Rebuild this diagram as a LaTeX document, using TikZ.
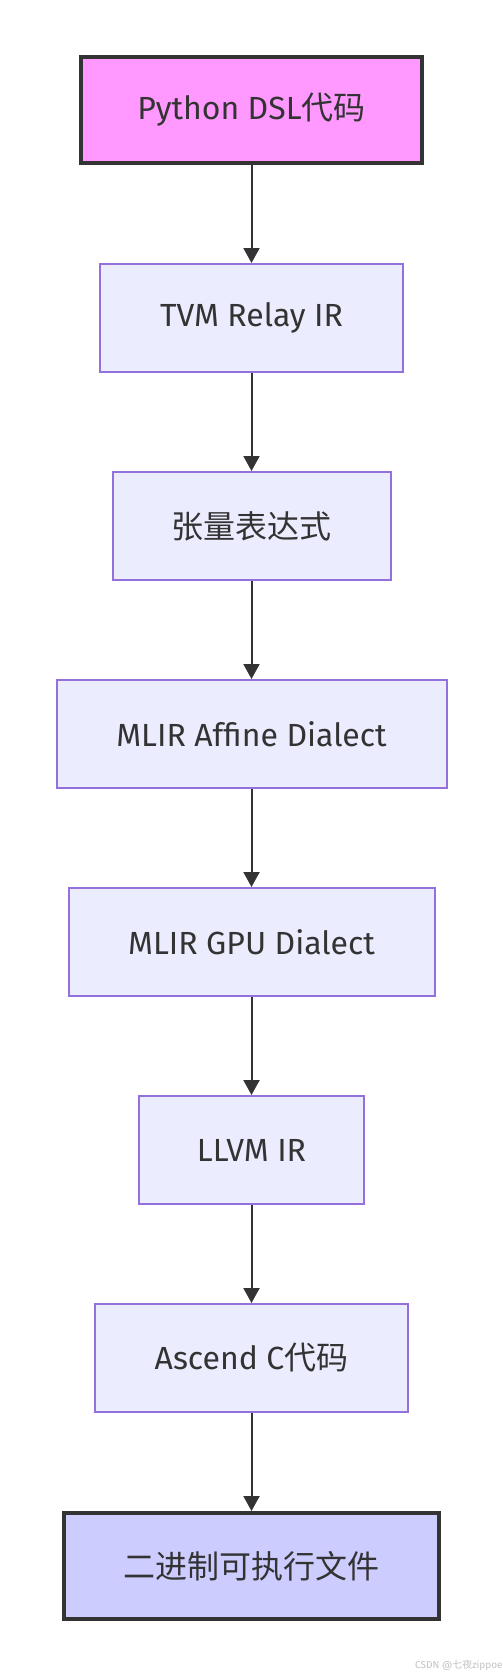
\documentclass[tikz,border=0pt]{standalone}
\usepackage{fontspec}
\setmainfont{Fira Sans}
\newfontfamily\cjk{Noto Sans CJK SC}
\usetikzlibrary{arrows.meta}
\definecolor{txt}{HTML}{333333}
\definecolor{lightfill}{HTML}{ECECFF}
\definecolor{lightborder}{HTML}{9370DB}
\definecolor{pinkfill}{HTML}{FF99FF}
\definecolor{bluefill}{HTML}{CCCCFF}
\definecolor{wmark}{HTML}{C4C4C4}
\begin{document}
\begin{tikzpicture}[x=1pt,y=-1pt,
  box/.style={rectangle, draw=lightborder, fill=lightfill, line width=2pt,
    minimum height=108pt, text=txt, inner sep=0pt,
    font=\fontsize{32}{38}\selectfont},
  thickbox/.style={box, draw=txt, line width=4pt, minimum height=106pt},
  flow/.style={draw=txt, line width=2pt, -{Triangle[length=15pt,width=16pt]}}]
\useasboundingbox[fill=white] (0,0) rectangle (503,1676);
\node[thickbox, fill=pinkfill, minimum width=341pt] (py) at (251.5,110) {Python DSL{\cjk 代码}};
\node[box, minimum width=303pt] (tvm) at (251.5,318) {TVM Relay IR};
\node[box, minimum width=278pt] (te) at (251.5,526) {\cjk 张量表达式};
\node[box, minimum width=390pt] (aff) at (251.5,734) {MLIR Affine Dialect};
\node[box, minimum width=366pt] (gpu) at (251.5,942) {MLIR GPU Dialect};
\node[box, minimum width=225pt] (llvm) at (251.5,1150) {LLVM IR};
\node[box, minimum width=313pt] (asc) at (251.5,1358) {Ascend C{\cjk 代码}};
\node[thickbox, fill=bluefill, minimum width=375pt] (bin) at (251.5,1566) {\cjk 二进制可执行文件};
\draw[flow] (py.south) -- (tvm.north);
\draw[flow] (tvm.south) -- (te.north);
\draw[flow] (te.south) -- (aff.north);
\draw[flow] (aff.south) -- (gpu.north);
\draw[flow] (gpu.south) -- (llvm.north);
\draw[flow] (llvm.south) -- (asc.north);
\draw[flow] (asc.south) -- (bin.north);
\node[anchor=west, inner sep=0pt, text=wmark, font=\fontsize{10}{12}\selectfont] (wm) at (415,1665) {CSDN @{\cjk 七夜}zippoe};
\end{tikzpicture}
\end{document}
